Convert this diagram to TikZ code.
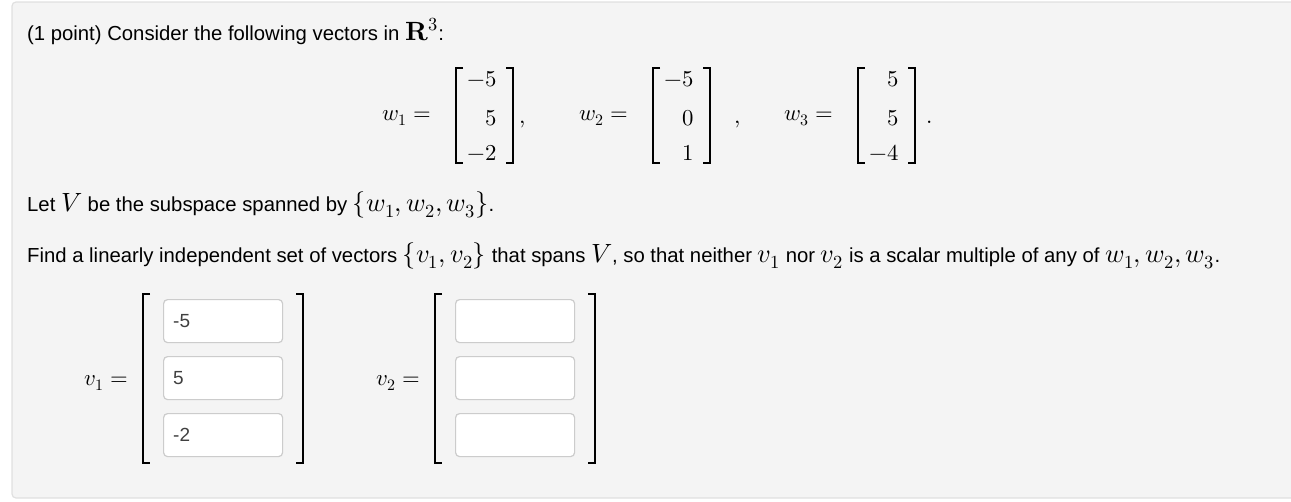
\documentclass[tikz,border=0pt]{standalone}
\usepackage{fontspec}
\setmainfont{Liberation Sans}
\usepackage{amsmath}
\usepackage{unicode-math}
\setmathfont{Latin Modern Math}[Scale=1.3]
\begin{document}
\begin{tikzpicture}[x=1pt,y=-1pt,
  txt/.style={anchor=base west,inner sep=0pt,font=\fontsize{20.3}{22}\selectfont},
  mth/.style={inner sep=0pt,font=\fontsize{17.5}{20}\selectfont},
  brk/.style={line width=1.6pt},
  ibox/.style={draw=black!20,line width=1.2pt,fill=white,rounded corners=4pt,minimum width=119pt,minimum height=43pt,anchor=north west},
  val/.style={anchor=west,inner sep=0pt,font=\fontsize{19}{20}\selectfont,text=black!75}]
\useasboundingbox (0,0) rectangle (1291,501);
\draw[fill=black!4.5,draw=black!12,line width=1.2pt,rounded corners=4pt] (12,2) rectangle (1300,498);
\node[txt] (t1) at (27,40) {(1 point) Consider the following vectors in $\symbf{R}^3$:};
% w vectors
\newcommand{\wvec}[6]{%
  \node[mth,anchor=east] (#1l) at (#2,118) {$w_{#3} =$};
  \draw[brk] (#2+25+7,68) -- (#2+25,68) -- (#2+25,163) -- (#2+25+7,163);
  \draw[brk] (#2+82-7,68) -- (#2+82,68) -- (#2+82,163) -- (#2+82-7,163);
  \node[mth,anchor=east] (#1a) at (#2+66,79) {$#4$};
  \node[mth,anchor=east] (#1b) at (#2+66,118) {$#5$};
  \node[mth,anchor=east] (#1c) at (#2+66,153) {$#6$};}
\wvec{wa}{431}{1}{-5}{5}{-2}
\wvec{wb}{628}{2}{-5}{0}{1}
\wvec{wc}{833}{3}{5}{5}{-4}
\node[mth] (c1) at (523,124) {$,$};
\node[mth] (c2) at (738,124) {$,$};
\node[mth] (p3) at (930,122) {$.$};
\node[txt] (t2) at (27,211) {Let $V$ be the subspace spanned by $\{w_1,w_2,w_3\}$.};
\node[txt] (t3) at (27,262) {Find a linearly independent set of vectors $\{v_1,v_2\}$ that spans $V$, so that neither $v_1$ nor $v_2$ is a scalar multiple of any of $w_1,w_2,w_3$.};
% v vectors
\node[mth,anchor=east] (v1l) at (128,383) {$v_1 =$};
\node[mth,anchor=east] (v2l) at (420,383) {$v_2 =$};
\foreach \bx/\lx/\rx in {a/143/303,b/435/595}{
  \draw[brk] (\lx+7,294) -- (\lx,294) -- (\lx,463) -- (\lx+7,463);
  \draw[brk] (\rx-7,294) -- (\rx,294) -- (\rx,463) -- (\rx-7,463);
  \foreach \i/\y in {1/299,2/356,3/413}{
    \node[ibox] (\bx\i) at (\lx+20,\y) {};}}
\node[val] (va1) at ([xshift=10pt]a1.west) {-5};
\node[val] (va2) at ([xshift=10pt]a2.west) {5};
\node[val] (va3) at ([xshift=10pt]a3.west) {-2};
\end{tikzpicture}
\end{document}
